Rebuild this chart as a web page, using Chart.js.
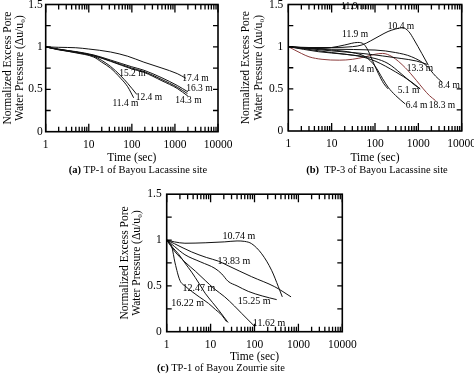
<!DOCTYPE html>
<html><head><meta charset="utf-8">
<script src="https://cdn.jsdelivr.net/npm/chart.js@4.4.0/dist/chart.umd.min.js"></script>
<style>
body{margin:0;background:#fff;width:474px;height:379px;overflow:hidden;position:relative;font-family:"Liberation Serif","Times New Roman",serif;}
canvas{position:absolute;}
.cap{position:absolute;font-size:10.5px;white-space:nowrap;transform:translate(-50%,-50%);color:#000;line-height:1;}
</style></head><body>
<canvas id="ca" style="left:0;top:0" width="237" height="180"></canvas>
<canvas id="cb" style="left:237px;top:0" width="237" height="180"></canvas>
<canvas id="cc" style="left:100px;top:185px" width="260" height="194"></canvas>
<div class="cap" style="left:138px;top:170px"><b>(a)</b> TP-1 of Bayou Lacassine site</div>
<div class="cap" style="left:377px;top:170px"><b>(b)</b>&nbsp; TP-3 of Bayou Lacassine site</div>
<div class="cap" style="left:221px;top:368px"><b>(c)</b> TP-1 of Bayou Zourrie site</div>
<script>
// ---- ticks ----
const xTickValues = [1, 10, 100, 1000, 10000];
const xTickLabels = ['1', '10', '100', '1000', '10000'];
const yTickValues = [0, 0.5, 1, 1.5];
const yTickLabels = ['0', '0.5', '1', '1.5'];
const xAxisTitle = 'Time (sec)';
const yAxisTitle = ['Normalized Excess Pore', 'Water Pressure (\u0394u/u\u2080)'];

// ---- panel (a): TP-1 Bayou Lacassine  [time (s), du/u0] ----
const a_17_4 = [[1,1],[2,0.995],[5,0.99],[10,0.975],[32,0.94],[80,0.89],[190,0.82],[500,0.75],[1130,0.685],[1800,0.63]];
const a_16_3 = [[1,1],[2,0.97],[5,0.945],[13,0.905],[32,0.845],[100,0.765],[190,0.725],[500,0.635],[1130,0.545],[2000,0.47]];
const a_15_2 = [[1,1],[2,0.97],[5,0.94],[13,0.9],[32,0.835],[100,0.75],[190,0.71],[500,0.615],[1130,0.525],[1950,0.45]];
const a_14_3 = [[1,1],[2,0.965],[5,0.935],[13,0.895],[32,0.83],[100,0.74],[190,0.7],[500,0.6],[1130,0.51],[2000,0.42]];
const a_12_4 = [[1,1],[2,0.975],[5,0.94],[13,0.89],[20,0.84],[32,0.77],[55,0.66],[80,0.57],[130,0.44]];
const a_11_4 = [[1,1],[2,0.97],[5,0.93],[13,0.88],[20,0.82],[32,0.75],[55,0.63],[80,0.53],[110,0.4]];
const a_series = [a_17_4, a_16_3, a_15_2, a_14_3, a_12_4, a_11_4];
const a_labels = [['15.2 m',103,0.69],['17.4 m',2990,0.63],['16.3 m',3700,0.51],['14.3 m',2057,0.364],['12.4 m',249,0.40],['11.4 m',71,0.333]];

// ---- panel (b): TP-3 Bayou Lacassine ----
const b_10_4 = [[1,1],[3,0.99],[10,0.99],[30,1.0],[50,1.02],[80,1.07],[130,1.13],[200,1.18],[300,1.21],[430,1.225],[600,1.18],[800,1.08],[1200,0.92],[1700,0.78]];
const b_11_9 = [[1,1],[3,0.98],[10,0.99],[20,1.02],[40,1.05],[55,1.03],[70,0.95],[90,0.82],[120,0.68],[160,0.56],[200,0.5]];
const b_8_4 = [[1,1],[10,0.97],[100,0.96],[300,0.93],[700,0.88],[1500,0.78],[2500,0.65],[3500,0.58]];
const b_13_3 = [[1,1],[10,0.95],[50,0.92],[150,0.89],[400,0.86],[900,0.83],[1600,0.79]];
const b_14_4 = [[1,1],[5,0.94],[20,0.91],[50,0.88],[100,0.83],[300,0.7],[700,0.58],[1100,0.5]];
const b_5_1 = [[1,1],[10,0.93],[30,0.9],[100,0.86],[200,0.8],[400,0.68],[800,0.55],[1100,0.5]];
const b_6_4 = [[1,1],[10,0.96],[30,0.93],[60,0.88],[100,0.77],[150,0.62],[200,0.52],[300,0.42],[500,0.32]];
const b_18_3 = [[1,1],[2,0.92],[3,0.88],[6,0.85],[15,0.84],[30,0.85],[60,0.88],[100,0.91],[150,0.92],[250,0.88],[500,0.75],[900,0.6],[1300,0.5],[1800,0.42],[2500,0.36]];
const b_series = [b_10_4, b_11_9, b_8_4, b_13_3, b_14_4, b_5_1, b_6_4, b_18_3];
const b_labels = [['11.9 m',33,1.477],['10.4 m',398,1.237],['11.9 m',34.6,1.139],['14.4 m',47.5,0.724],['13.3 m',1091,0.744],['8.4 m',5090,0.534],['5.1 m',593,0.486],['6.4 m',906,0.297],['18.3 m',3514,0.297]];

// ---- panel (c): TP-1 Bayou Zourrie ----
const c_10_74 = [[1,1],[1.5,0.98],[2.6,0.965],[7.5,0.97],[21,0.98],[40,0.99],[60,0.985],[86,0.96],[146,0.85],[245,0.67],[350,0.49],[430,0.38]];
const c_13_83 = [[1,1],[1.5,0.96],[3.7,0.87],[8,0.81],[15,0.77],[25,0.72],[86,0.6],[290,0.49],[680,0.38]];
const c_15_25 = [[1,1],[1.5,0.93],[2.6,0.84],[6,0.76],[12.6,0.69],[18,0.63],[25,0.55],[40,0.5],[72,0.44],[150,0.39],[320,0.35]];
const c_12_47 = [[1,1],[1.3,0.93],[1.84,0.85],[2.6,0.75],[3.7,0.65],[5.4,0.53],[7.5,0.42],[11,0.32],[15,0.24],[25,0.1]];
const c_11_62 = [[1,1],[1.5,0.88],[2.6,0.76],[4.5,0.66],[7.5,0.56],[12,0.47],[21,0.38],[35,0.28],[51,0.2],[102,0.055]];
const c_16_22 = [[1,1],[1.15,0.97],[1.3,0.93],[1.55,0.75],[2.0,0.56],[2.6,0.5],[3.7,0.44],[5.5,0.38],[8.9,0.31],[13,0.24],[18,0.18],[23,0.11]];
const c_series = [c_10_74, c_13_83, c_15_25, c_12_47, c_11_62, c_16_22];
const c_labels = [['10.74 m',43.9,1.036],['13.83 m',34,0.763],['12.47 m',5.4,0.473],['16.22 m',2.98,0.31],['15.25 m',97.5,0.327],['11.62 m',214,0.092]];

const FONT = "'Liberation Serif','Times New Roman',serif";

const framePlugin = {
  id: 'frame',
  afterDatasetsDraw(chart, args, opts) {
    const {ctx, chartArea: {left, right, top, bottom}, scales: {x, y}} = chart;
    ctx.save();
    ctx.strokeStyle = '#000';
    ctx.lineWidth = 1.3;
    ctx.beginPath();
    const decades = xTickValues;
    decades.forEach(v => {
      const p = x.getPixelForValue(v);
      ctx.moveTo(p, bottom); ctx.lineTo(p, bottom - 8);
      ctx.moveTo(p, top); ctx.lineTo(p, top + 8);
    });
    for (let d = 0; d < decades.length - 1; d++) {
      for (let k = 2; k <= 9; k++) {
        const p = x.getPixelForValue(k * decades[d]);
        ctx.moveTo(p, bottom); ctx.lineTo(p, bottom - 5);
        ctx.moveTo(p, top); ctx.lineTo(p, top + 5);
      }
    }
    for (let v = 0.25; v < 1.5; v += 0.25) {
      const p = y.getPixelForValue(v);
      ctx.moveTo(left, p); ctx.lineTo(left + 5, p);
      ctx.moveTo(right, p); ctx.lineTo(right - 5, p);
    }
    ctx.stroke();
    ctx.lineWidth = 1.6;
    ctx.strokeRect(left, top, right - left, bottom - top);
    ctx.fillStyle = '#000';
    ctx.font = opts.labelSize + 'px ' + FONT;
    ctx.textAlign = 'center';
    ctx.textBaseline = 'middle';
    (opts.labels || []).forEach(([t, xv, yv]) => {
      ctx.fillText(t, x.getPixelForValue(xv), y.getPixelForValue(yv));
    });
    ctx.restore();
  }
};

function makePanel(id, series, labels, L) {
  const datasets = series.map((s, i) => ({
    data: s.map(([t, u]) => ({x: t, y: u})),
    borderColor: (L.colors && L.colors[i]) || '#111',
    borderWidth: 1,
    pointRadius: 0,
    fill: false,
    cubicInterpolationMode: 'monotone'
  }));
  return new Chart(document.getElementById(id), {
    type: 'line',
    data: {datasets},
    options: {
      responsive: false,
      animation: false,
      layout: {padding: {top: L.top, right: L.right, left: 0, bottom: 0}},
      plugins: {legend: {display: false}, tooltip: {enabled: false},
        frame: {labels, labelSize: L.labelSize}},
      scales: {
        x: {
          type: 'logarithmic', min: 1, max: 10000,
          grid: {display: false, drawTicks: false},
          border: {display: false},
          afterBuildTicks: s => { s.ticks = xTickValues.map(v => ({value: v})); },
          afterFit: s => { s.height = L.xh; s.paddingLeft = 0; s.paddingRight = 0; },
          ticks: {color: '#000', font: {family: FONT, size: 11.5}, padding: 6, maxRotation: 0, autoSkip: false,
            callback: (v) => { const i = xTickValues.indexOf(v); return i >= 0 ? xTickLabels[i] : ''; }},
          title: {display: true, text: xAxisTitle, color: '#000', font: {family: FONT, size: 11.5, lineHeight: 1.1}, padding: {top: 0, bottom: 16}}
        },
        y: {
          type: 'linear', min: 0, max: 1.5,
          grid: {display: false, drawTicks: false},
          border: {display: false},
          afterBuildTicks: s => { s.ticks = yTickValues.map(v => ({value: v})); },
          afterFit: s => { s.width = L.yw; s.paddingTop = 0; s.paddingBottom = 0; },
          ticks: {color: '#000', font: {family: FONT, size: 11.5}, padding: L.ypad,
            callback: (v) => { const i = yTickValues.indexOf(v); return i >= 0 ? yTickLabels[i] : ''; }},
          title: {display: true, text: yAxisTitle, color: '#000', font: {family: FONT, size: 11.5, lineHeight: 1.1}, padding: {top: L.ytp, bottom: 0}}
        }
      }
    },
    plugins: [framePlugin]
  });
}

makePanel('ca', a_series, a_labels, {top: 4.5, right: 19, xh: 48.3, yw: 45.7, ypad: 3, ytp: 1.5, labelSize: 9.5});
makePanel('cb', b_series, b_labels, {top: 4.5, right: 12.3, xh: 49, yw: 51.3, ypad: 5, ytp: 3, labelSize: 9.5,
  colors: ['#111','#111','#111','#111','#111','#111','#111','#8a3b3b']});
makePanel('cc', c_series, c_labels, {top: 9.2, right: 17.7, xh: 47.3, yw: 66.7, ypad: 5, ytp: 18.4, labelSize: 10});
</script>
</body></html>
